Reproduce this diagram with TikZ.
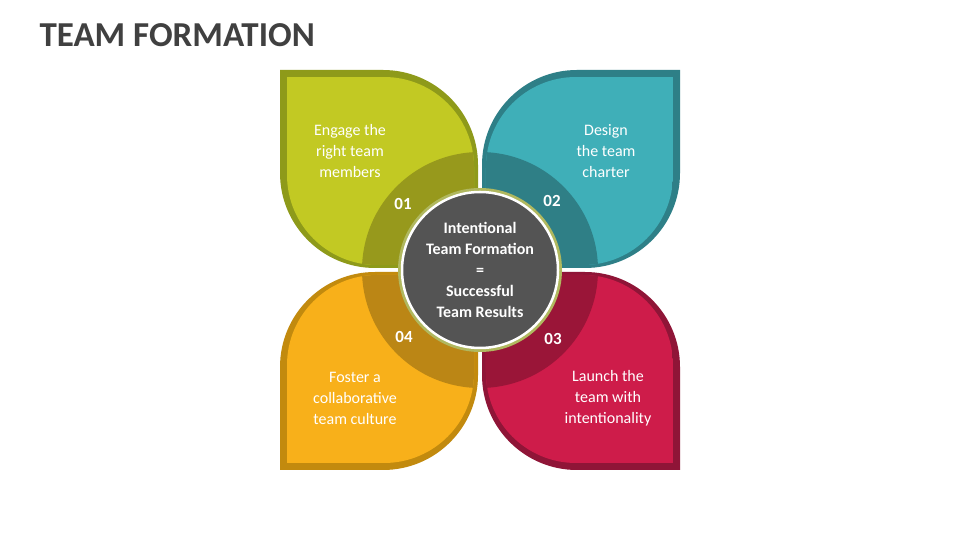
\documentclass[tikz,border=0pt]{standalone}
\usepackage{fontspec}
\setmainfont{Carlito}
\begin{document}
\begin{tikzpicture}[x=1pt,y=1pt,
  lbl/.style={text=white,align=center,font=\fontsize{16}{21}\selectfont},
  num/.style={text=white,font=\bfseries\fontsize{17}{19}\selectfont}]
\useasboundingbox (0,0) rectangle (960,540);
\fill[white] (0,0) rectangle (960,540);
\node[anchor=west,text=black!75,font=\bfseries\fontsize{35}{38}\selectfont] (title) at (36,505) {TEAM FORMATION};
\definecolor{gD}{HTML}{8E9A1A}\definecolor{gL}{HTML}{C2C923}\definecolor{gB}{HTML}{97991C}
\definecolor{tD}{HTML}{2E7F87}\definecolor{tL}{HTML}{3FAFB8}\definecolor{tB}{HTML}{2F7F86}
\definecolor{rD}{HTML}{8F1537}\definecolor{rL}{HTML}{CE1C4A}\definecolor{rB}{HTML}{9A1538}
\definecolor{yD}{HTML}{C28A0E}\definecolor{yL}{HTML}{F8B01A}\definecolor{yB}{HTML}{BB8615}
\newcommand{\petal}[5]{%
 \begin{scope}[shift={(480,270)},xscale=#1,yscale=#2]
  \fill[#3] (-200,200) -- (-97,200) arc[start angle=90,end angle=0,radius=95] -- (-2,2) -- (-105,2) arc[start angle=270,end angle=180,radius=95] -- cycle;
  \begin{scope}
  \clip (-193,193) -- (-96,193) arc[start angle=90,end angle=0,radius=90] -- (-5,5) -- (-103,5) arc[start angle=270,end angle=180,radius=90] -- cycle;
  \fill[#4] (-193,193) rectangle (0,0);
  \fill[#5] (0,0) -- (0,118) arc[start angle=90,end angle=180,radius=118] -- cycle;
  \end{scope}
 \end{scope}}
\petal{1}{1}{gD}{gL}{gB}
\petal{-1}{1}{tD}{tL}{tB}
\petal{1}{-1}{yD}{yL}{yB}
\petal{-1}{-1}{rD}{rL}{rB}
\fill[gD!70] (480,270) circle (82);
\node[circle,minimum size=156,fill=black!67,draw=white,line width=2.5pt,text=white,align=center,font=\bfseries\fontsize{16}{21}\selectfont] (c) at (480,270) {Intentional\\Team Formation\\=\\Successful\\Team Results};
\node[lbl] (t1) at (350,389) {Engage the\\right team\\members};
\node[lbl] (t2) at (606,389) {Design\\the team\\charter};
\node[lbl] (t3) at (608,142) {Launch the\\team with\\intentionality};
\node[lbl] (t4) at (355,142) {Foster a\\collaborative\\team culture};
\node[num] (n1) at (403,336) {01};
\node[num] (n2) at (552,339) {02};
\node[num] (n3) at (553,201) {03};
\node[num] (n4) at (404,203) {04};
\end{tikzpicture}
\end{document}
